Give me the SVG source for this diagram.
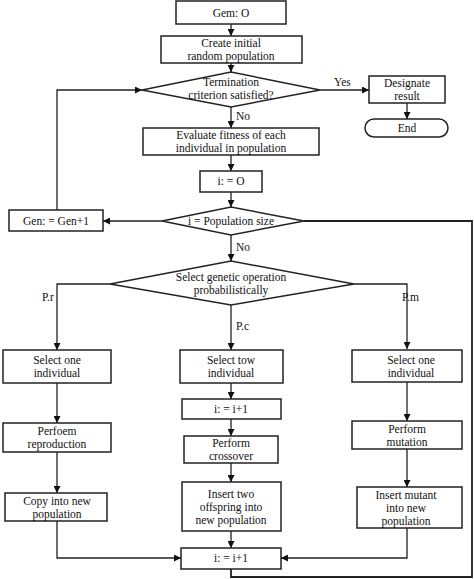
<svg xmlns="http://www.w3.org/2000/svg" width="474" height="579" viewBox="0 0 474 579">
<defs>
<marker id="ah" viewBox="0 0 10 10" refX="10" refY="5" markerWidth="7" markerHeight="7" markerUnits="userSpaceOnUse" orient="auto">
<path d="M0,0 L10,5 L0,10 z" fill="#111"/>
</marker>
<style>
.b{fill:#fff;stroke:#222;stroke-width:1.5}
.t{font-family:"Liberation Serif","Times New Roman",serif;font-size:11.5px;fill:#111;text-anchor:middle}
.l{font-family:"Liberation Serif","Times New Roman",serif;font-size:11.5px;fill:#111}
.c{fill:none;stroke:#222;stroke-width:1.3}
</style>
</defs>
<rect width="474" height="579" fill="#fff"/>
<g id="connectors">
<line class="c" x1="231" y1="24" x2="231" y2="36" marker-end="url(#ah)"/>
<line class="c" x1="231" y1="63" x2="231" y2="72" marker-end="url(#ah)"/>
<line class="c" x1="320" y1="90" x2="369" y2="90" marker-end="url(#ah)"/>
<line class="c" x1="407" y1="103" x2="407" y2="119" marker-end="url(#ah)"/>
<line class="c" x1="231" y1="107" x2="231" y2="128" marker-end="url(#ah)"/>
<line class="c" x1="231" y1="155" x2="231" y2="171" marker-end="url(#ah)"/>
<line class="c" x1="231" y1="192" x2="231" y2="207" marker-end="url(#ah)"/>
<line class="c" x1="162" y1="221" x2="103" y2="221" marker-end="url(#ah)"/>
<polyline class="c" points="57,210 57,90 142,90" marker-end="url(#ah)"/>
<line class="c" x1="231" y1="235" x2="231" y2="261" marker-end="url(#ah)"/>
<polyline class="c" points="110,284 57,284 57,350" marker-end="url(#ah)"/>
<polyline class="c" points="354,284 407,284 407,349" marker-end="url(#ah)"/>
<line class="c" x1="231" y1="305" x2="231" y2="350" marker-end="url(#ah)"/>
<line class="c" x1="57" y1="383" x2="57" y2="423" marker-end="url(#ah)"/>
<line class="c" x1="57" y1="452" x2="57" y2="493" marker-end="url(#ah)"/>
<polyline class="c" points="57,521 57,558 181,558" marker-end="url(#ah)"/>
<line class="c" x1="231" y1="383" x2="231" y2="399" marker-end="url(#ah)"/>
<line class="c" x1="231" y1="419" x2="231" y2="436" marker-end="url(#ah)"/>
<line class="c" x1="231" y1="463" x2="231" y2="482" marker-end="url(#ah)"/>
<line class="c" x1="231" y1="531" x2="231" y2="548" marker-end="url(#ah)"/>
<line class="c" x1="407" y1="382" x2="407" y2="421" marker-end="url(#ah)"/>
<line class="c" x1="407" y1="449" x2="407" y2="487" marker-end="url(#ah)"/>
<polyline class="c" points="407,528 407,558 281,558" marker-end="url(#ah)"/>
<polyline class="c" points="231,569 231,577 472,577 472,221 304,221" style="stroke-width:1.8"/>
<text class="l" x="334" y="86">Yes</text>
<text class="l" x="236" y="120">No</text>
<text class="l" x="236" y="251">No</text>
<text class="l" x="42" y="301">P.r</text>
<text class="l" x="236" y="330">P.c</text>
<text class="l" x="402" y="301">P.m</text>
</g>
<g id="gem"><rect class="b" x="176" y="1" width="110" height="23"/><text class="t" x="231" y="17">Gem: O</text></g>
<g id="create"><rect class="b" x="161" y="36" width="141" height="27"/><text class="t" x="231" y="47">Create initial</text><text class="t" x="231" y="60">random population</text></g>
<g id="term"><polygon class="b" points="142,90 231,72 320,90 231,107"/><text class="t" x="231" y="86">Termination</text><text class="t" x="231" y="99">criterion satisfied?</text></g>
<g id="designate"><rect class="b" x="369" y="76" width="76" height="27"/><text class="t" x="407" y="87">Designate</text><text class="t" x="407" y="100">result</text></g>
<g id="end"><rect class="b" x="365" y="119" width="83" height="18" rx="9" ry="9"/><text class="t" x="407" y="132">End</text></g>
<g id="evaluate"><rect class="b" x="143" y="128" width="176" height="27"/><text class="t" x="231" y="139">Evaluate fitness of each</text><text class="t" x="231" y="152">individual in population</text></g>
<g id="i0"><rect class="b" x="200" y="171" width="62" height="21"/><text class="t" x="231" y="185">i: = O</text></g>
<g id="popsize"><polygon class="b" points="162,221 231,207 304,221 231,235"/><text class="t" x="231" y="225">i = Population size</text></g>
<g id="gen"><rect class="b" x="9" y="210" width="94" height="21"/><text class="t" x="56" y="225">Gen: = Gen+1</text></g>
<g id="select"><polygon class="b" points="110,284 231,261 354,284 231,305"/><text class="t" x="231" y="281">Select genetic operation</text><text class="t" x="231" y="294">probabilistically</text></g>
<g id="sel1"><rect class="b" x="3" y="350" width="108" height="33"/><text class="t" x="57" y="364">Select one</text><text class="t" x="57" y="377">individual</text></g>
<g id="repro"><rect class="b" x="3" y="423" width="108" height="29"/><text class="t" x="57" y="435">Perfoem</text><text class="t" x="57" y="448">reproduction</text></g>
<g id="copy"><rect class="b" x="5" y="493" width="102" height="28"/><text class="t" x="57" y="504.5">Copy into new</text><text class="t" x="57" y="517.5">population</text></g>
<g id="sel2"><rect class="b" x="180" y="350" width="103" height="33"/><text class="t" x="231" y="364">Select tow</text><text class="t" x="231" y="377">individual</text></g>
<g id="inc1"><rect class="b" x="182" y="399" width="99" height="20"/><text class="t" x="231" y="413">i: = i+1</text></g>
<g id="cross"><rect class="b" x="184" y="436" width="94" height="27"/><text class="t" x="231" y="447">Perform</text><text class="t" x="231" y="460">crossover</text></g>
<g id="insert2"><rect class="b" x="182" y="482" width="99" height="49"/><text class="t" x="231" y="497.5">Insert two</text><text class="t" x="231" y="510.5">offspring into</text><text class="t" x="231" y="523.5">new population</text></g>
<g id="inc2"><rect class="b" x="181" y="548" width="100" height="21"/><text class="t" x="231" y="562">i: = i+1</text></g>
<g id="sel3"><rect class="b" x="352" y="350" width="110" height="32"/><text class="t" x="411" y="363.5">Select one</text><text class="t" x="411" y="376.5">individual</text></g>
<g id="mut"><rect class="b" x="352" y="421" width="110" height="28"/><text class="t" x="407" y="432.5">Perform</text><text class="t" x="407" y="445.5">mutation</text></g>
<g id="insertm"><rect class="b" x="357" y="487" width="105" height="41"/><text class="t" x="406" y="498.5">Insert mutant</text><text class="t" x="406" y="511.5">into new</text><text class="t" x="406" y="524.5">population</text></g>
</svg>
